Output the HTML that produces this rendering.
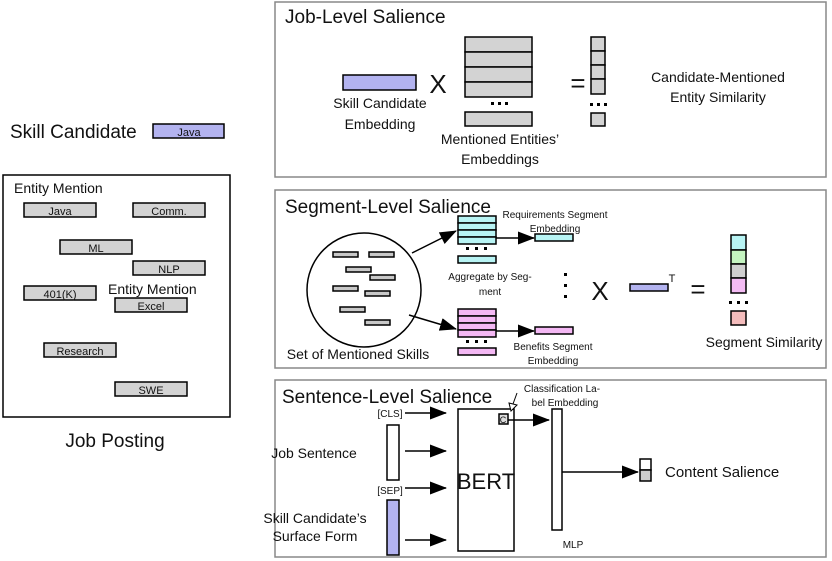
<!DOCTYPE html>
<html><head><meta charset="utf-8"><style>html,body{margin:0;padding:0;background:#fff}svg{display:block}text{font-family:"Liberation Sans",sans-serif;fill:#111}</style></head><body>
<svg width="832" height="561" viewBox="0 0 832 561" xmlns="http://www.w3.org/2000/svg">
<defs>
<marker id="ab" markerWidth="17" markerHeight="13" refX="16" refY="6.5" orient="auto" markerUnits="userSpaceOnUse"><path d="M0,0 L17,6.5 L0,13z" fill="#000"/></marker></defs>
<g stroke="#000" stroke-width="1.5">
<rect x="153" y="124" width="71" height="14" fill="#b3b3f0"/>
<rect x="3" y="175" width="227" height="242" fill="none"/>
<g fill="#d3d3d3">
<rect x="24" y="203" width="72" height="14"/><rect x="133" y="203" width="72" height="14"/>
<rect x="60" y="240" width="72" height="14"/><rect x="133" y="261" width="72" height="14"/>
<rect x="24" y="286" width="72" height="14"/><rect x="115" y="298" width="72" height="14"/>
<rect x="44" y="343" width="72" height="14"/><rect x="115" y="382" width="72" height="14"/>
</g>
<rect x="275" y="2" width="551" height="175" fill="none" stroke="#888"/>
<rect x="275" y="190" width="551" height="178" fill="none" stroke="#888"/>
<rect x="275" y="380" width="551" height="177" fill="none" stroke="#888"/>
<rect x="343" y="75" width="73" height="15" fill="#b3b3f0"/>
<g fill="#d3d3d3"><rect x="465" y="37" width="67" height="15"/><rect x="465" y="52" width="67" height="15"/><rect x="465" y="67" width="67" height="15"/><rect x="465" y="82" width="67" height="15"/><rect x="465" y="112" width="67" height="14"/>
<rect x="591" y="37" width="14" height="14"/><rect x="591" y="51" width="14" height="14"/><rect x="591" y="65" width="14" height="14"/><rect x="591" y="79" width="14" height="15"/><rect x="591" y="113" width="14" height="13"/></g>
<ellipse cx="364" cy="290" rx="57" ry="57" fill="none"/>
<g fill="#c8c8c8"><rect x="333" y="252" width="25" height="5"/><rect x="369" y="252" width="25" height="5"/><rect x="346" y="267" width="25" height="5"/><rect x="370" y="275" width="25" height="5"/><rect x="333" y="286" width="25" height="5"/><rect x="365" y="291" width="25" height="5"/><rect x="340" y="307" width="25" height="5"/><rect x="365" y="320" width="25" height="5"/></g>
<g fill="#b8f4f4"><rect x="458" y="216" width="38" height="7"/><rect x="458" y="223" width="38" height="7"/><rect x="458" y="230" width="38" height="7"/><rect x="458" y="237" width="38" height="7"/><rect x="458" y="256" width="38" height="7"/><rect x="535" y="234" width="38" height="7"/></g>
<g fill="#f4b8f4"><rect x="458" y="309" width="38" height="7"/><rect x="458" y="316" width="38" height="7"/><rect x="458" y="323" width="38" height="7"/><rect x="458" y="330" width="38" height="7"/><rect x="458" y="348" width="38" height="7"/><rect x="535" y="327" width="38" height="7"/></g>
<line x1="412" y1="253" x2="456" y2="231" marker-end="url(#ab)"/>
<line x1="409" y1="315" x2="456" y2="329" marker-end="url(#ab)"/>
<line x1="496" y1="238" x2="534" y2="238" marker-end="url(#ab)"/>
<line x1="496" y1="331" x2="534" y2="331" marker-end="url(#ab)"/>
<rect x="630" y="284" width="38" height="7" fill="#b3b3f0"/>
<rect x="731" y="235" width="15" height="15" fill="#b8f4f4"/><rect x="731" y="250" width="15" height="14" fill="#c4f4c0"/><rect x="731" y="264" width="15" height="14" fill="#cfcfcf"/><rect x="731" y="278" width="15" height="15" fill="#f4bcf4"/><rect x="731" y="311" width="15" height="14" fill="#f4bcbc"/>
<rect x="387" y="425" width="12" height="55" fill="#fff"/>
<rect x="387" y="500" width="12" height="55" fill="#b3b3f0"/>
<line x1="405" y1="413" x2="446" y2="413" marker-end="url(#ab)"/>
<line x1="405" y1="451" x2="446" y2="451" marker-end="url(#ab)"/>
<line x1="405" y1="488" x2="446" y2="488" marker-end="url(#ab)"/>
<line x1="405" y1="540" x2="446" y2="540" marker-end="url(#ab)"/>
<rect x="458" y="409" width="56" height="142" fill="#fff"/>
<rect x="499" y="414" width="9" height="10" fill="#ddd"/>
<line x1="508" y1="420" x2="549" y2="420" marker-end="url(#ab)"/>
<rect x="552" y="409" width="10" height="121" fill="#fff"/>
<line x1="562" y1="472" x2="638" y2="472" marker-end="url(#ab)"/>
<rect x="640" y="459" width="11" height="11" fill="#fff"/><rect x="640" y="470" width="11" height="11" fill="#ccc"/>
<line x1="517" y1="393" x2="513" y2="404" stroke-width="1"/>
<path d="M509,403 L517,405 L511,411z" fill="#fff" stroke-width="1"/>
</g>
<g font-size="19"><text x="10" y="138">Skill Candidate</text><text x="115" y="447" text-anchor="middle">Job Posting</text>
<text x="285" y="23">Job-Level Salience</text><text x="285" y="213">Segment-Level Salience</text><text x="282" y="403">Sentence-Level Salience</text></g>
<text x="486" y="489" font-size="22" text-anchor="middle">BERT</text>
<g font-size="11" text-anchor="middle"><text x="189" y="136">Java</text>
<text x="60" y="215">Java</text><text x="169" y="215">Comm.</text><text x="96" y="252">ML</text><text x="169" y="273">NLP</text><text x="60" y="298">401(K)</text><text x="151" y="310">Excel</text><text x="80" y="355">Research</text><text x="151" y="394">SWE</text></g>
<g font-size="14"><text x="14" y="193">Entity Mention</text><text x="108" y="294">Entity Mention</text>
<text x="380" y="108" text-anchor="middle">Skill Candidate</text><text x="380" y="129" text-anchor="middle">Embedding</text>
<text x="500" y="144" text-anchor="middle">Mentioned Entities’</text><text x="500" y="164" text-anchor="middle">Embeddings</text>
<text x="718" y="82" text-anchor="middle">Candidate-Mentioned</text><text x="718" y="102" text-anchor="middle">Entity Similarity</text>
<text x="358" y="359" text-anchor="middle">Set of Mentioned Skills</text>
<text x="764" y="347" text-anchor="middle">Segment Similarity</text>
<text x="314" y="458" text-anchor="middle">Job Sentence</text>
<text x="315" y="523" text-anchor="middle">Skill Candidate’s</text><text x="315" y="541" text-anchor="middle">Surface Form</text>
<text x="665" y="477" font-size="15">Content Salience</text></g>
<g font-size="10" text-anchor="middle"><text x="555" y="218">Requirements Segment</text><text x="555" y="232">Embedding</text>
<text x="553" y="350">Benefits Segment</text><text x="553" y="364">Embedding</text>
<text x="490" y="280">Aggregate by Seg-</text><text x="490" y="295">ment</text>
<text x="390" y="417">[CLS]</text><text x="390" y="494">[SEP]</text><text x="573" y="548">MLP</text>
<text x="562" y="392">Classification La-</text><text x="565" y="406">bel Embedding</text><text x="503" y="423" font-size="9">C</text><text x="672" y="282" font-size="11">T</text></g>
<g font-size="26" text-anchor="middle"><text x="438" y="93">X</text><text x="578" y="92">=</text><text x="600" y="300">X</text><text x="698" y="298">=</text></g>
<g fill="#000"><rect x="491" y="102" width="3" height="3"/><rect x="498" y="102" width="3" height="3"/><rect x="505" y="102" width="3" height="3"/>
<rect x="590" y="103" width="3" height="3"/><rect x="597" y="103" width="3" height="3"/><rect x="604" y="103" width="3" height="3"/>
<rect x="466" y="247" width="3" height="3"/><rect x="475" y="247" width="3" height="3"/><rect x="484" y="247" width="3" height="3"/>
<rect x="466" y="340" width="3" height="3"/><rect x="475" y="340" width="3" height="3"/><rect x="484" y="340" width="3" height="3"/>
<rect x="729" y="301" width="3" height="3"/><rect x="737" y="301" width="3" height="3"/><rect x="745" y="301" width="3" height="3"/>
<rect x="564" y="273" width="3" height="3"/><rect x="564" y="284" width="3" height="3"/><rect x="564" y="295" width="3" height="3"/></g>
</svg>
</body></html>
